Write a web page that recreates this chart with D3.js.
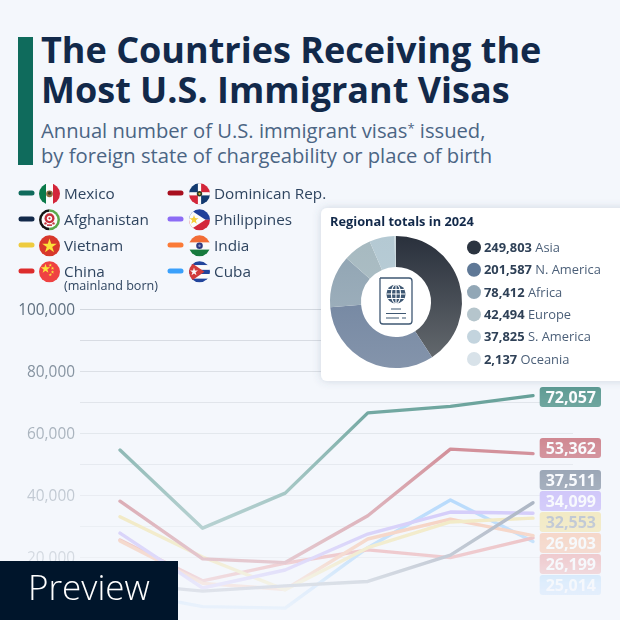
<!DOCTYPE html>
<html>
<head>
<meta charset="utf-8">
<script src="https://cdn.jsdelivr.net/npm/d3@7"></script>
<style>
  html, body { margin: 0; padding: 0; background: #f4f7fc; }
  svg { display: block; font-family: "Open Sans", sans-serif; }
</style>
</head>
<body>
<svg id="chart" width="620" height="620"></svg>
<script>
// Visas issued per fiscal year, by country
const years = [2019, 2020, 2021, 2022, 2023, 2024];
const mexico = [54500, 29300, 40600, 66500, 68600, 72057];
const dominican = [38000, 19400, 18200, 33300, 54800, 53362];
const afghanistan = [11500, 9000, 10700, 12100, 20600, 37511];
const philippines = [27700, 10000, 15800, 27400, 34500, 34099];
const vietnam = [33000, 20000, 9400, 23000, 31300, 32553];
const india = [25200, 11500, 9500, 25800, 32200, 26903];
const china = [25500, 12300, 18000, 22300, 19800, 26199];
const cuba = [9000, 4000, 3500, 23000, 38400, 25014];

const seriesNames = ["Mexico", "Dominican Rep.", "Afghanistan", "Philippines", "Vietnam", "India", "China", "Cuba"];
const seriesValues = [mexico, dominican, afghanistan, philippines, vietnam, india, china, cuba];
const seriesColors = ["#0f6b5c", "#a80f1f", "#12294a", "#8c6cf5", "#eecb3f", "#fb7a37", "#dd2c2c", "#3aa0fb"];
const yTicks = [20000, 30000, 40000, 50000, 60000, 70000, 80000, 90000, 100000];

// Regional totals for the inset donut
const regions = ["Asia", "N. America", "Africa", "Europe", "S. America", "Oceania"];
const regionTotals = [249803, 201587, 78412, 42494, 37825, 2137];
const regionDots = ["#2b3440", "#5f7896", "#92a7b6", "#b5c5cc", "#c3d4de", "#d8e2e9"];
const regionTop = ["#29303c", "#6a7f9c", "#8fa3b2", "#a6b9c0", "#b4c9d3", "#c8d6dc"];
const regionBottom = ["#686d71", "#8494ab", "#a5b6c1", "#b3c4ca", "#bdd0d9", "#d0dce2"];

const legendCol1 = ["Mexico", "Afghanistan", "Vietnam", "China"];
const legendCol2 = ["Dominican Rep.", "Philippines", "India", "Cuba"];

const fmt = d3.format(",");
const svg = d3.select("#chart");
const defs = svg.append("defs");
const ink = "#12294a";
const bodyInk = "#2f4560";

svg.append("rect").attr("width", 620).attr("height", 620).attr("fill", "#f4f7fc");

// Header
svg.append("rect").attr("x", 18).attr("y", 37).attr("width", 15).attr("height", 128).attr("fill", "#0f6b5c");
const titleLines = ["The Countries Receiving the", "Most U.S. Immigrant Visas"];
svg.selectAll("text.title").data(titleLines).join("text").attr("class", "title")
  .attr("x", 41).attr("y", (d, i) => 63 + i * 40)
  .attr("font-size", 36).attr("font-weight", 700).attr("fill", ink).text(d => d);
const sub1 = svg.append("text").attr("x", 41).attr("y", 138).attr("font-size", 20.2).attr("fill", "#4b6584");
sub1.append("tspan").text("Annual number of U.S. immigrant visas");
sub1.append("tspan").attr("dy", -5).attr("font-size", 13).text("*");
sub1.append("tspan").attr("dy", 5).text(" issued,");
svg.append("text").attr("x", 41).attr("y", 162.5).attr("font-size", 20.2).attr("fill", "#4b6584")
  .text("by foreign state of chargeability or place of birth");

// Everything in the plot fades out toward the bottom of the page
const fade = defs.append("linearGradient").attr("id", "fade")
  .attr("gradientUnits", "userSpaceOnUse").attr("x1", 0).attr("x2", 0).attr("y1", 0).attr("y2", 620);
[[0, 1], [310, 1], [371, .74], [395, .62], [450, .44], [500, .32], [560, .2], [585, .11], [620, .03]]
  .forEach(([y, a]) => fade.append("stop").attr("offset", y / 620).attr("stop-color", "#fff").attr("stop-opacity", a));
const mask = defs.append("mask").attr("id", "fadeMask").attr("maskUnits", "userSpaceOnUse")
  .attr("x", 0).attr("y", 0).attr("width", 620).attr("height", 620);
mask.append("rect").attr("width", 620).attr("height", 620).attr("fill", "url(#fade)");
const plot = svg.append("g").attr("mask", "url(#fadeMask)");

// Scales and axis
const x = d3.scalePoint().domain(years).range([120, 533]);
const y = d3.scaleLinear().domain([0, 100000]).range([619, 309]);
const axis = d3.axisLeft(y).tickValues(yTicks).tickSize(-493).tickPadding(5)
  .tickFormat(d => d % 20000 === 0 ? fmt(d) : "");
const axisG = plot.append("g").attr("transform", "translate(80,0)").call(axis);
axisG.select(".domain").remove();
axisG.selectAll("line").attr("stroke", "#d3d8df").attr("stroke-width", 1);
axisG.selectAll("text").attr("font-size", 15.4).attr("font-family", "'Open Sans', sans-serif")
  .attr("fill", "#5f7080").attr("dy", "0.38em");

// Series lines, with the leading series painted last
const line = d3.line().x((d, i) => x(years[i])).y(d => y(d));
d3.range(seriesNames.length).reverse().forEach(i => {
  plot.append("path").datum(seriesValues[i]).attr("d", line).attr("fill", "none")
    .attr("stroke", seriesColors[i]).attr("stroke-width", 3.4)
    .attr("stroke-linecap", "round").attr("stroke-linejoin", "round");
});

// End-of-line value badges stacked so they do not collide
const badgeCentres = [397, 448, 480, 501, 522, 543, 564, 585];
seriesNames.forEach((name, i) => {
  const v = seriesValues[i][years.length - 1];
  const g = plot.append("g").attr("transform", `translate(0,${badgeCentres[i]})`);
  const rect = g.append("rect").attr("rx", 3).attr("fill", seriesColors[i]);
  const t = g.append("text").attr("x", 596).attr("y", 5.8).attr("text-anchor", "end")
    .attr("font-size", 16).attr("font-weight", 700)
    .attr("fill", name === "Vietnam" ? "#3f5470" : "#fff").text(fmt(v));
  const w = t.node().getComputedTextLength();
  rect.attr("x", 596 - w - 6).attr("y", -10).attr("width", w + 11).attr("height", 20);
});

// Flag emblems, each drawn in a 21px circle around the origin
const star = (g, cx, cy, size, fill, rot = 0) => g.append("path")
  .attr("d", d3.symbol(d3.symbolStar, size)())
  .attr("transform", `translate(${cx},${cy}) rotate(${rot})`).attr("fill", fill);
const box = (g, bx, by, w, h, fill) => g.append("rect").attr("x", bx).attr("y", by).attr("width", w).attr("height", h).attr("fill", fill);
const poly = (g, pts, fill) => g.append("polygon").attr("points", pts).attr("fill", fill);
const disc = (g, cx, cy, r, fill) => g.append("circle").attr("cx", cx).attr("cy", cy).attr("r", r).attr("fill", fill);

const flags = {
  "Mexico": g => {
    box(g, -11, -11, 7.5, 22, "#0a7a4a"); box(g, -3.5, -11, 7, 22, "#fbfbfb"); box(g, 3.5, -11, 7.5, 22, "#d3263a");
    disc(g, 0, 0, 3.4, "#8f6b3a"); disc(g, 0, -.6, 1.6, "#3a3a24");
  },
  "Afghanistan": g => {
    box(g, -11, -11, 11, 22, "#141414"); box(g, 0, -11, 11, 22, "#5aa84a");
    disc(g, 0, 0, 8, "#fbfbfb");
    disc(g, 0, -1.5, 5, "#c5303a"); disc(g, 0, -1.5, 2.6, "#fbfbfb"); disc(g, 0, -1.5, 1.1, "#c5303a");
    disc(g, -4, 3.6, 1.2, "#c5303a"); disc(g, 4, 3.6, 1.2, "#c5303a"); box(g, -2.5, 4.6, 5, 1.5, "#c5303a");
  },
  "Vietnam": g => { box(g, -11, -11, 22, 22, "#d8382b"); star(g, 0, .3, 66, "#fbe33a"); },
  "China": g => {
    box(g, -11, -11, 22, 22, "#ef4242"); star(g, -4, -3, 28, "#fbe33a");
    star(g, .8, -6.5, 4, "#fbe33a"); star(g, 3, -3.5, 4, "#fbe33a"); star(g, 3, .3, 4, "#fbe33a"); star(g, .8, 3, 4, "#fbe33a");
  },
  "Dominican Rep.": g => {
    box(g, -11, -11, 11, 11, "#123a70"); box(g, 0, 0, 11, 11, "#123a70");
    box(g, 0, -11, 11, 11, "#d3263a"); box(g, -11, 0, 11, 11, "#d3263a");
    box(g, -11, -1.6, 22, 3.2, "#fbfbfb"); box(g, -1.6, -11, 3.2, 22, "#fbfbfb");
    disc(g, 0, 0, 2.7, "#2d3a22"); disc(g, 0, 0, 1.1, "#d8b83a");
  },
  "Philippines": g => {
    box(g, -11, -11, 22, 11, "#1f3f9a"); box(g, -11, 0, 22, 11, "#d3263a");
    poly(g, "-11,-11 6,0 -11,11", "#fbfbfb");
    star(g, -5.5, 0, 26, "#f5cc3a"); disc(g, -5.5, 0, 2.2, "#f5cc3a");
  },
  "India": g => {
    box(g, -11, -11, 22, 7.8, "#f26d36"); box(g, -11, -3.2, 22, 7, "#fbfbfb"); box(g, -11, 3.8, 22, 7.2, "#177a3e");
    disc(g, 0, 0, 3.3, "#2e3a80"); disc(g, 0, 0, 1.2, "#8d93c0");
  },
  "Cuba": g => {
    [-11, -2.2, 6.6].forEach(s => box(g, -11, s, 22, 4.4, "#22459c"));
    [-6.6, 2.2].forEach(s => box(g, -11, s, 22, 4.4, "#fbfbfb"));
    poly(g, "-11,-11 5,0 -11,11", "#d23b3b");
    star(g, -5.5, 0, 20, "#fbfbfb");
  }
};

function legendColumn(names, dashX, flagX, textX) {
  names.forEach((name, r) => {
    const cy = 193 + r * 26;
    svg.append("line").attr("x1", dashX).attr("x2", dashX + 11).attr("y1", cy).attr("y2", cy)
      .attr("stroke", seriesColors[seriesNames.indexOf(name)]).attr("stroke-width", 5).attr("stroke-linecap", "round");
    const id = "clip" + seriesNames.indexOf(name);
    defs.append("clipPath").attr("id", id).append("circle").attr("r", 10.5);
    const f = svg.append("g").attr("transform", `translate(${flagX},${cy + .8})`).append("g").attr("clip-path", `url(#${id})`);
    flags[name](f);
    svg.append("text").attr("x", textX).attr("y", cy + 6).attr("font-size", 15.3).attr("fill", bodyInk).text(name);
  });
}
legendColumn(legendCol1, 21, 49.5, 64);
legendColumn(legendCol2, 170, 199.5, 214);
svg.append("text").attr("x", 64).attr("y", 290).attr("font-size", 12.6).attr("fill", bodyInk).text("(mainland born)");

// Inset panel with regional totals
const shadow = defs.append("filter").attr("id", "panelShadow").attr("x", "-10%").attr("y", "-15%").attr("width", "120%").attr("height", "130%");
shadow.append("feDropShadow").attr("dx", 0).attr("dy", 0).attr("stdDeviation", 4).attr("flood-color", "#50607a").attr("flood-opacity", .22);
svg.append("rect").attr("x", 321).attr("y", 208).attr("width", 320).attr("height", 173).attr("rx", 6)
  .attr("fill", "#fff").attr("filter", "url(#panelShadow)");
svg.append("text").attr("x", 330).attr("y", 226).attr("font-size", 12.8).attr("font-weight", 700).attr("fill", ink).text("Regional totals in 2024");

const cx = 396, cy = 302, outer = 66, inner = 35;
const pie = d3.pie().sort(null)(regionTotals);
const arc = d3.arc().innerRadius(inner).outerRadius(outer);
const donut = svg.append("g").attr("transform", `translate(${cx},${cy})`);
pie.forEach((p, i) => {
  const grad = defs.append("linearGradient").attr("id", "slice" + i)
    .attr("gradientUnits", "userSpaceOnUse").attr("x1", 0).attr("x2", 0).attr("y1", -outer).attr("y2", outer);
  grad.append("stop").attr("offset", 0).attr("stop-color", regionTop[i]);
  grad.append("stop").attr("offset", 1).attr("stop-color", regionBottom[i]);
  donut.append("path").attr("d", arc(p)).attr("fill", `url(#slice${i})`);
});

// Passport icon in the donut hole
const icon = donut.append("g").attr("fill", "none").attr("stroke", "#3f5873").attr("stroke-width", 1.3);
icon.append("path").attr("d", "M-16,-24 H13 Q16,-24 16,-21 V19 Q16,22 13,22 M-16,-24 V19 Q-16,22 -13,22 H13");
icon.append("circle").attr("cx", 0).attr("cy", -8).attr("r", 9.6).attr("fill", "#3f5873").attr("stroke", "none");
const wires = icon.append("g").attr("stroke", "#fff").attr("stroke-width", 1.1);
wires.append("path").attr("d", "M-9.6,-8 H9.6 M0,-17.6 V1.6 M-8.6,-12.5 H8.6 M-8.6,-3.5 H8.6");
wires.append("ellipse").attr("cx", 0).attr("cy", -8).attr("rx", 4.6).attr("ry", 9.6);
icon.append("path").attr("d", "M-5,7 H5 M-10,11.5 H10 M-10,16 H3 M6,16 H10").attr("stroke-width", 1.2);

// Region list beside the donut
const rowY = d3.scaleLinear().domain([0, 5]).range([247.5, 359]);
regions.forEach((name, i) => {
  disc(svg, 474, rowY(i), 7, regionDots[i]);
  const t = svg.append("text").attr("x", 484).attr("y", rowY(i) + 4.6).attr("font-size", 12.9).attr("fill", "#4b5f78");
  t.append("tspan").attr("font-weight", 700).attr("fill", "#2f4157").text(fmt(regionTotals[i]));
  t.append("tspan").text(" " + name);
});

// Preview banner
svg.append("rect").attr("x", 0).attr("y", 561).attr("width", 178).attr("height", 59).attr("fill", "#00152b");
svg.append("text").attr("x", 28).attr("y", 600).attr("font-size", 35).attr("font-weight", 300).attr("fill", "#fff").text("Preview");
</script>
</body>
</html>
